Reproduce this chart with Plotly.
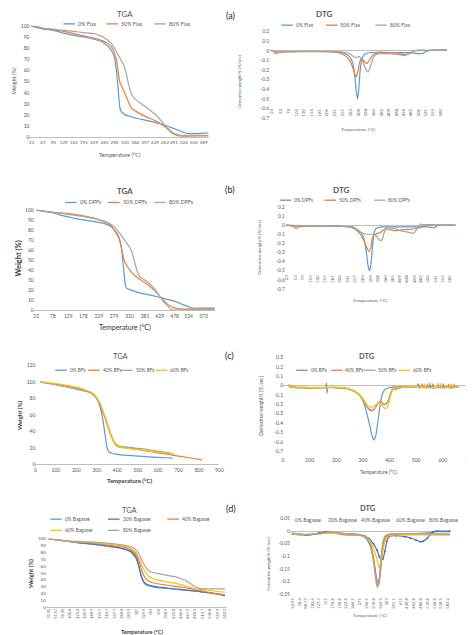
import plotly.graph_objects as go

W, H = 474, 635

# ---------------- data (temperature °C, value) ----------------
# (a) Flax  - TGA weight %
A_TGA_0 = [(23, 100), (40, 98.5), (61, 97), (95, 96), (129, 93.5), (162, 91.5), (195, 90), (229, 88),
           (263, 84.5), (280, 80), (290, 76), (297, 70), (303, 58), (309, 40), (314, 26), (320, 22.5),
           (330, 20.5), (345, 19), (364, 17.5), (397, 15.5), (429, 13.5), (462, 11), (491, 8), (510, 6),
           (524, 4.5), (540, 3.5), (560, 3.5), (589, 4), (605, 4)]
A_TGA_50 = [(23, 100), (40, 99), (61, 97.5), (95, 96.5), (129, 95), (162, 93), (195, 91), (229, 89),
            (263, 86), (280, 83), (291, 79), (302, 70), (309, 57), (314, 49), (323, 44), (334, 37),
            (350, 27), (372, 22.5), (404, 18), (430, 15), (448, 12), (465, 9), (480, 5), (495, 2.5),
            (510, 1.5), (540, 1.3), (589, 1.5), (605, 1.5)]
A_TGA_80 = [(23, 100), (40, 99.5), (61, 98), (95, 97), (129, 96), (162, 95), (195, 94), (229, 93),
            (250, 91), (270, 88), (285, 84.5), (296, 80), (308, 74), (318, 69), (326, 65), (334, 58),
            (342, 48), (350, 40), (361, 35), (375, 32), (393, 28.5), (415, 24), (437, 19), (452, 14),
            (464, 10), (476, 7), (486, 4.5), (500, 3), (513, 2), (540, 2), (589, 2), (605, 2)]
# (a) Flax  - DTG %/sec
A_DTG_0 = [(23, 0), (35, -0.01), (50, -0.015), (70, -0.01), (100, -0.008), (150, -0.005), (200, -0.008),
           (230, -0.01), (250, -0.015), (265, -0.03), (280, -0.06), (290, -0.12), (297, -0.25),
           (302, -0.42), (306, -0.5), (310, -0.42), (315, -0.2), (322, -0.07), (330, -0.035),
           (345, -0.02), (365, -0.015), (400, -0.015), (450, -0.02), (480, -0.02), (495, -0.025),
           (510, -0.03), (520, -0.03), (530, -0.01), (545, 0.005), (570, 0.01), (600, 0.01)]
A_DTG_50 = [(23, 0), (30, -0.01), (38, -0.03), (45, -0.015), (60, -0.012), (100, -0.01), (150, -0.008),
            (200, -0.01), (230, -0.015), (250, -0.025), (265, -0.05), (280, -0.1), (290, -0.17),
            (297, -0.24), (302, -0.27), (307, -0.22), (313, -0.12), (319, -0.08), (326, -0.1),
            (333, -0.125), (338, -0.13), (345, -0.1), (355, -0.05), (365, -0.03), (400, -0.02),
            (440, -0.025), (462, -0.04), (478, -0.03), (494, 0), (510, 0.008), (530, 0.005),
            (560, 0.005), (600, 0.005)]
A_DTG_80 = [(23, 0), (50, -0.005), (100, -0.005), (150, -0.005), (200, -0.005), (250, -0.01),
            (270, -0.02), (283, -0.035), (293, -0.06), (300, -0.07), (305, -0.065), (312, -0.06),
            (322, -0.1), (332, -0.18), (341, -0.22), (350, -0.15), (360, -0.06), (375, -0.03),
            (400, -0.03), (441, -0.04), (462, -0.05), (478, -0.02), (494, 0), (520, 0.005),
            (560, 0.005), (600, 0.01)]

# (b) DPFs - TGA
B_TGA_0 = [(23, 100), (50, 98.5), (78, 97), (100, 95), (129, 93), (150, 91.5), (178, 90), (200, 89),
           (229, 87.5), (250, 86), (265, 84), (280, 80), (290, 76), (298, 70), (305, 58), (311, 40),
           (316, 26), (320, 22), (335, 20), (350, 18.5), (367, 17), (400, 15), (432, 12.5), (465, 10),
           (486, 8), (505, 5.5), (518, 4), (535, 2), (560, 2), (610, 2)]
B_TGA_50 = [(23, 100), (64, 98), (100, 97), (151, 95.5), (194, 93), (226, 90.5), (259, 86.5), (280, 80),
            (297, 70), (305, 60), (313, 49), (324, 43), (345, 35), (367, 30), (389, 25.5), (410, 20),
            (432, 13), (454, 6), (475, 2.5), (497, 1.2), (520, 1), (560, 1), (610, 1)]
B_TGA_80 = [(23, 100), (42, 99), (80, 97.5), (129, 95.5), (194, 92.5), (232, 90), (260, 87), (280, 83),
            (302, 75), (318, 68), (335, 60), (345, 50), (352, 42), (362, 34), (375, 31), (389, 28),
            (410, 22), (427, 15), (443, 8), (459, 3), (467, 0.5), (472, 0), (480, 0), (520, 0),
            (560, 0), (610, 0)]
# (b) DPFs - DTG
B_DTG_0 = [(23, 0), (50, -0.01), (100, -0.01), (150, -0.01), (200, -0.015), (250, -0.02), (260, -0.04),
           (270, -0.06), (282, -0.1), (290, -0.18), (297, -0.32), (302, -0.45), (307, -0.5), (312, -0.42),
           (318, -0.2), (323, -0.08), (328, -0.04), (335, -0.03), (349, -0.02), (400, -0.02), (450, -0.02),
           (507, -0.02), (518, -0.025), (527, -0.03), (535, -0.015), (541, 0), (560, 0), (600, 0)]
B_DTG_50 = [(23, 0), (40, -0.01), (50, -0.02), (57, -0.04), (65, -0.02), (100, -0.015), (150, -0.01),
            (200, -0.012), (250, -0.03), (260, -0.05), (275, -0.1), (288, -0.17), (298, -0.25),
            (305, -0.29), (311, -0.25), (316, -0.15), (322, -0.11), (327, -0.1), (335, -0.09),
            (344, -0.08), (352, -0.06), (361, -0.04), (372, -0.045), (383, -0.055), (395, -0.06),
            (405, -0.058), (420, -0.05), (440, -0.05), (462, -0.04), (485, -0.02), (496, 0),
            (510, 0.005), (560, 0), (600, 0)]
B_DTG_80 = [(23, 0), (100, -0.008), (200, -0.01), (230, -0.015), (248, -0.03), (262, -0.05),
            (276, -0.08), (290, -0.095), (299, -0.1), (308, -0.1), (316, -0.1), (325, -0.11),
            (333, -0.13), (340, -0.16), (344, -0.17), (350, -0.16), (355, -0.1), (361, -0.05),
            (366, -0.03), (380, -0.03), (394, -0.035), (403, -0.05), (411, -0.06), (425, -0.07),
            (440, -0.08), (456, -0.09), (465, -0.06), (472, -0.02), (479, 0.01), (490, 0.005),
            (520, 0), (600, 0)]

# (c) BFs - TGA
C_TGA_0 = [(25, 100), (60, 98.5), (100, 97), (150, 94), (200, 91), (240, 89), (270, 86.5), (290, 83),
           (305, 77), (318, 68), (328, 57), (336, 44), (344, 30), (350, 21), (356, 16.5), (363, 14.5),
           (372, 13.5), (385, 12.8), (400, 12.2), (450, 11), (500, 10), (550, 9.2), (600, 8.5),
           (640, 8), (670, 7.6)]
C_TGA_40 = [(25, 100), (60, 98.5), (100, 97), (150, 94.5), (200, 92), (240, 89.5), (270, 87), (290, 83),
            (305, 78), (318, 71), (330, 63), (342, 55), (355, 45), (368, 36), (380, 29), (392, 24),
            (402, 22), (415, 21), (450, 20), (500, 18), (550, 16), (600, 14), (650, 12), (700, 10),
            (750, 8), (815, 5.5)]
C_TGA_50 = [(25, 100), (60, 98), (100, 96.5), (150, 94), (200, 92), (240, 89.5), (270, 87), (290, 83),
            (305, 78), (318, 72), (330, 64), (342, 56), (355, 46), (368, 37), (380, 30), (392, 25),
            (402, 23), (415, 22), (450, 21), (500, 19.5), (550, 18), (600, 16), (640, 14.5), (675, 13)]
C_TGA_60 = [(25, 100), (60, 99), (100, 98), (150, 96), (200, 93.5), (240, 90.5), (270, 88), (290, 84),
            (305, 79), (318, 73), (330, 65), (342, 57), (355, 47), (368, 37), (380, 29), (392, 23.5),
            (402, 21.5), (415, 20.5), (450, 19.5), (500, 18), (550, 16.5), (600, 15), (640, 13.5),
            (680, 12)]
# (c) BFs - DTG
C_DTG_0 = [(20, 0), (25, 0.01), (30, -0.01), (50, -0.02), (100, -0.02), (150, -0.02), (160, -0.02),
           (163, 0.03), (165, -0.08), (167, -0.03), (170, -0.02), (200, -0.02), (240, -0.03),
           (260, -0.05), (280, -0.08), (295, -0.13), (305, -0.2), (315, -0.3), (325, -0.42),
           (333, -0.52), (340, -0.58), (347, -0.55), (353, -0.45), (360, -0.3), (366, -0.18),
           (372, -0.1), (380, -0.05), (390, -0.03), (410, -0.015), (450, -0.01), (500, -0.01),
           (510, 0.02), (512, -0.03), (515, -0.01), (550, -0.01), (552, 0.025), (555, -0.02),
           (600, -0.01), (602, 0.02), (605, -0.02), (640, -0.01), (660, -0.01)]
C_DTG_40 = [(20, -0.005), (30, -0.015), (50, -0.02), (100, -0.025), (150, -0.02), (200, -0.02),
            (240, -0.03), (260, -0.05), (280, -0.08), (295, -0.13), (305, -0.18), (315, -0.23),
            (325, -0.26), (333, -0.27), (340, -0.26), (348, -0.23), (355, -0.2), (362, -0.17),
            (368, -0.17), (375, -0.19), (382, -0.2), (388, -0.19), (395, -0.16), (402, -0.1),
            (410, -0.05), (418, -0.03), (425, -0.04), (428, -0.02), (432, -0.03), (450, -0.015),
            (500, -0.01), (520, -0.01), (523, 0.02), (526, -0.02), (560, -0.01), (563, 0.02),
            (566, -0.02), (600, -0.01), (620, -0.01), (623, 0.015), (626, -0.025), (660, -0.01)]
C_DTG_50 = [(20, -0.005), (30, -0.01), (50, -0.015), (100, -0.02), (150, -0.02), (162, -0.02),
            (165, -0.05), (168, -0.02), (200, -0.02), (240, -0.03), (260, -0.05), (280, -0.08),
            (295, -0.12), (305, -0.17), (315, -0.22), (325, -0.25), (335, -0.26), (345, -0.24),
            (355, -0.19), (362, -0.17), (370, -0.18), (378, -0.2), (385, -0.2), (392, -0.18),
            (400, -0.12), (408, -0.05), (418, -0.02), (450, -0.015), (500, -0.01), (540, -0.01),
            (543, 0.02), (546, -0.02), (580, -0.01), (583, 0.025), (586, -0.02), (640, -0.01),
            (643, 0.015), (646, -0.02), (660, -0.01)]
C_DTG_60 = [(20, -0.01), (25, 0.01), (30, -0.01), (50, -0.015), (100, -0.02), (150, -0.02),
            (200, -0.015), (240, -0.025), (260, -0.045), (280, -0.075), (295, -0.12), (305, -0.16),
            (315, -0.2), (325, -0.225), (335, -0.23), (345, -0.21), (355, -0.19), (362, -0.18),
            (370, -0.2), (378, -0.23), (386, -0.245), (393, -0.22), (400, -0.15), (408, -0.07),
            (415, -0.03), (420, -0.045), (424, -0.02), (450, -0.015), (500, -0.01), (530, -0.01),
            (533, 0.02), (536, -0.02), (590, -0.01), (593, 0.02), (596, -0.015), (630, -0.01),
            (633, 0.02), (636, -0.02), (660, -0.01)]

# (d) Bagasse - TGA
D_TGA_T = [33, 55, 78, 100, 123, 146, 169, 192, 215, 238, 261, 284, 295, 307, 315, 322, 330, 338,
           346, 353, 365, 376, 399, 422, 445, 468, 490, 500, 514, 537, 560, 583]
D_TGA_0 = [100, 98.5, 97, 95.5, 94, 93, 92, 90.5, 89, 87.5, 85.5, 82, 78, 70, 58, 45, 36, 32.5,
           31, 30, 29, 28.5, 27.5, 26.5, 25.5, 24.5, 23.5, 23, 22, 21, 19.5, 18]
D_TGA_20 = [100, 98.5, 97, 95.5, 94.5, 93.5, 92.5, 91, 89.5, 88, 86, 83, 79.5, 72, 60, 46, 37, 34,
            32.5, 31.5, 30.5, 29.5, 28.5, 27, 26, 25, 24, 23.5, 22.5, 21, 19, 17]
D_TGA_40 = [100, 98.5, 97, 96, 95, 94.5, 93.5, 92.5, 91, 89.5, 88, 85, 82, 76, 67, 56, 46, 41,
            38, 36.5, 35, 34, 32.5, 31, 29.5, 28, 26, 25, 23.5, 21.5, 19.5, 18]
D_TGA_60 = [100, 98.5, 97, 96, 95.5, 95, 94.5, 93.5, 92.5, 91, 89.5, 87, 84, 79, 72, 63, 55, 49,
            45, 43, 40.5, 39.5, 37.5, 35.5, 33, 30, 27, 26.5, 26, 24.5, 23, 22]
D_TGA_80 = [100, 98.5, 97.5, 96.5, 96, 95.5, 95, 94.5, 93.5, 92.5, 91, 89, 87, 83, 78, 71, 63, 57,
            53, 51.5, 50, 49, 47, 45, 42, 37, 30, 28, 27, 27, 27, 27]
# (d) Bagasse - DTG
D_DTG_0 = [(33, -0.008), (60, -0.012), (90, -0.015), (130, -0.01), (170, -0.005), (200, -0.008),
           (240, -0.012), (270, -0.015), (290, -0.025), (305, -0.05), (318, -0.1), (327, -0.16),
           (334, -0.2), (340, -0.19), (346, -0.14), (352, -0.07), (360, -0.03), (372, -0.018),
           (400, -0.012), (450, -0.01), (500, -0.008), (531, -0.005), (540, -0.002), (590, -0.002)]
D_DTG_20 = [(33, -0.01), (50, -0.012), (80, -0.016), (110, -0.012), (130, -0.006), (150, -0.003),
            (180, -0.006), (210, -0.01), (240, -0.01), (270, -0.014), (290, -0.02), (305, -0.03),
            (320, -0.05), (332, -0.075), (340, -0.1), (347, -0.115), (353, -0.11), (360, -0.08),
            (367, -0.04), (375, -0.02), (400, -0.018), (430, -0.022), (450, -0.027), (470, -0.035),
            (485, -0.042), (495, -0.04), (510, -0.028), (522, -0.012), (531, -0.002), (545, 0),
            (590, 0)]
D_DTG_40 = [(33, -0.012), (60, -0.015), (100, -0.012), (140, -0.008), (170, -0.006), (200, -0.012),
            (230, -0.016), (260, -0.016), (285, -0.02), (300, -0.03), (312, -0.06), (322, -0.12),
            (330, -0.19), (336, -0.215), (341, -0.2), (347, -0.13), (353, -0.06), (360, -0.025),
            (372, -0.015), (400, -0.012), (450, -0.012), (500, -0.012), (540, -0.012), (590, -0.012)]
D_DTG_60 = [(33, -0.01), (60, -0.014), (100, -0.012), (150, -0.008), (200, -0.01), (250, -0.012),
            (285, -0.02), (305, -0.035), (320, -0.07), (332, -0.11), (340, -0.145), (346, -0.13),
            (353, -0.08), (360, -0.04), (370, -0.02), (400, -0.015), (500, -0.015), (590, -0.016)]
D_DTG_80 = [(33, -0.008), (60, -0.012), (90, -0.014), (130, -0.01), (170, -0.004), (200, -0.008),
            (230, -0.01), (260, -0.012), (285, -0.02), (300, -0.035), (312, -0.07), (322, -0.14),
            (329, -0.2), (334, -0.222), (339, -0.2), (345, -0.12), (352, -0.05), (360, -0.02),
            (372, -0.012), (400, -0.01), (500, -0.01), (550, -0.012), (590, -0.012)]

# category tick labels copied from the charts
A_TGA_TICKS = ["23", "61", "95", "129", "162", "195", "229", "263", "296", "330", "364", "397",
               "429", "462", "491", "524", "556", "589"]
AB_DTG_TICKS = ["23", "53", "79", "105", "130", "155", "181", "206", "231", "257", "283", "309",
                "334", "360", "385", "409", "434", "459", "482", "506", "531", "555", "580"]
B_TGA_TICKS = ["23", "78", "129", "178", "229", "279", "330", "381", "429", "478", "524", "573"]
D_TGA_TICKS = ["32.95", "55.57", "78.35", "100.4", "123.4", "145.9", "168.9", "191.7", "214.7",
               "237.7", "260.8", "283.9", "307", "329.9", "353", "376", "398.9", "421.8", "444.6",
               "467.5", "490.3", "513.7", "536.8", "559.9", "583.2"]
D_DTG_TICKS = ["32.95", "58.4", "80.17", "103.4", "127.3", "151", "174.6", "198.8", "222.6",
               "246.9", "271", "294.9", "318.8", "343.9", "367", "391.1", "415", "438.8", "462.8",
               "486.8", "510.8", "534.8", "558.9", "583.2"]

BLUE, ORANGE, GRAY, YELLOW, DBLUE = "#5B9BD5", "#ED7D31", "#A5A5A5", "#FFC000", "#4472C4"
TXT = "#595959"
FONT = "Lato"


def fx(px):
    return px / W


def fy(py):
    return 1 - py / H


def ylabels(vals):
    out = []
    for v in vals:
        s = ("%.2f" % v).rstrip("0").rstrip(".")
        out.append("0" if s in ("-0", "0") else s)
    return out


def pairs(p):
    return [a for a, _ in p], [b for _, b in p]


# each panel: plot box in px (x0, x1, ytop, ybot), ranges, ticks, series, legend layout
panels = [
    dict(box=(20.7, 201.7, 15, 127.7), xr=[16.5, 605], yr=[0, 100], ticks=A_TGA_TICKS, xpos=128.5,
         angle=0, xfs=4.6, yfs=5, yt=[i * 10 for i in range(11)],
         series=[("0% Flax", pairs(A_TGA_0), BLUE), ("50% Flax", pairs(A_TGA_50), ORANGE),
                 ("80% Flax", pairs(A_TGA_80), GRAY)],
         leg=[(55, 13), (98.3, 13), (146.7, 13)], legfs=5.3),
    dict(box=(263, 443, 20.7, 108.3), xr=[15.5, 602], yr=[-0.7, 0.2], ticks=AB_DTG_TICKS, xpos=97,
         angle=-90, xfs=4.4, yfs=5, yt=[round(-0.7 + 0.1 * i, 2) for i in range(10)],
         series=[("0% Flax", pairs(A_DTG_0), BLUE), ("50% Flax", pairs(A_DTG_50), ORANGE),
                 ("80% Flax", pairs(A_DTG_80), GRAY)],
         leg=[(275.3, 14.3), (320.3, 14.3), (370.3, 14.3)], legfs=5),
    dict(box=(25, 208, 200.7, 302), xr=[15.5, 610], yr=[0, 100], ticks=B_TGA_TICKS, xpos=303.5,
         angle=0, xfs=5, yfs=5, yt=[i * 10 for i in range(11)],
         series=[("0% DPFs", pairs(B_TGA_0), BLUE), ("50% DPFs", pairs(B_TGA_50), ORANGE),
                 ("80% DPFs", pairs(B_TGA_80), GRAY)],
         leg=[(56.7, 193.3), (100, 193.3), (146.7, 193.3)], legfs=5.3),
    dict(box=(278.7, 452, 197.7, 280.7), xr=[17.6, 602.6], yr=[-0.7, 0.2], ticks=AB_DTG_TICKS,
         xpos=265, angle=-90, xfs=4.3, yfs=4.8, yt=[round(-0.7 + 0.1 * i, 2) for i in range(10)],
         series=[("0% DPFs", pairs(B_DTG_0), BLUE), ("50% DPFs", pairs(B_DTG_50), ORANGE),
                 ("80% DPFs", pairs(B_DTG_80), GRAY)],
         leg=[(273.7, 191), (318.7, 191), (368.7, 191)], legfs=4.8),
    dict(box=(26.7, 212.7, 357.7, 457.7), xr=[0, 900], yr=[0, 120], ticks=None, xpos=459,
         angle=0, xfs=5, yfs=5, yt=[i * 20 for i in range(7)], xt=[i * 100 for i in range(10)],
         series=[("0% BFs", pairs(C_TGA_0), BLUE), ("40% BFs", pairs(C_TGA_40), ORANGE),
                 ("50% BFs", pairs(C_TGA_50), GRAY), ("60% BFs", pairs(C_TGA_60), YELLOW)],
         leg=[(46.7, 362.7), (80, 362.7), (113.3, 362.7), (148.3, 362.7)], legfs=4.8),
    dict(box=(277, 465.3, 350, 444.3), xr=[0, 700], yr=[-0.7, 0.3], ticks=None, xpos=449,
         angle=0, xfs=5, yfs=5, yt=[round(-0.7 + 0.1 * i, 2) for i in range(11)],
         xt=[i * 100 for i in range(8)],
         series=[("0% BFs", pairs(C_DTG_0), BLUE), ("40% BFs", pairs(C_DTG_40), ORANGE),
                 ("50% BFs", pairs(C_DTG_50), GRAY), ("60% BFs", pairs(C_DTG_60), YELLOW)],
         leg=[(290.3, 362.7), (325.3, 362.7), (358.7, 362.7), (393.7, 362.7)], legfs=4.8),
    dict(box=(37.3, 220, 532.7, 602), xr=[24.6, 588.5], yr=[0, 100], ticks=D_TGA_TICKS, xpos=601.5,
         angle=-90, xfs=4.0, yfs=4.6, yt=[i * 10 for i in range(11)],
         series=[("0% Bagasse", (D_TGA_T, D_TGA_0), BLUE), ("20% Bagasse", (D_TGA_T, D_TGA_20), DBLUE),
                 ("40% Bagasse", (D_TGA_T, D_TGA_40), ORANGE), ("60% Bagasse", (D_TGA_T, D_TGA_60), YELLOW),
                 ("80% Bagasse", (D_TGA_T, D_TGA_80), GRAY)],
         leg=[(41.7, 513), (100, 513), (160, 513), (41.7, 524.3), (100, 524.3)], legfs=4.8),
    dict(box=(283.7, 446.3, 512.3, 589), xr=[23.9, 592.3], yr=[-0.25, 0.05], ticks=D_DTG_TICKS,
         xpos=591, angle=-90, xfs=4.1, yfs=4.8, yt=[round(-0.25 + 0.05 * i, 2) for i in range(7)],
         series=[("0% Bagasse", pairs(D_DTG_0), BLUE), ("20% Bagasse", pairs(D_DTG_20), DBLUE),
                 ("40% Bagasse", pairs(D_DTG_40), ORANGE), ("60% Bagasse", pairs(D_DTG_60), YELLOW),
                 ("80% Bagasse", pairs(D_DTG_80), GRAY)],
         leg=[(287, 514), (320, 514), (354, 514), (389, 514), (422, 514)], legfs=5, nokey=True),
]

# titles / axis titles: (text, x px, y px, size, colour, bold, angle)
labels = [
    ("TGA", 117, 3, 8, TXT, False, 0), ("DTG", 318.7, 3, 8, TXT, True, 0), ("(a)", 224, 5, 9, "#222", False, 0),
    ("Temperature (°C)", 112, 145, 5.6, TXT, False, 0), ("Weight (%)", 4, 70, 5.6, TXT, False, -90),
    ("Temperature (°C)", 353.7, 119, 4.6, TXT, False, 0),
    ("Derivative weight% (%/sec)", 233, 72, 4.5, TXT, False, -90),
    ("TGA", 117, 181.7, 8, TXT, True, 0), ("DTG", 335.3, 180.7, 8, TXT, True, 0), ("(b)", 223, 180, 9, "#222", False, 0),
    ("Temperature (°C)", 117, 320, 7, "#333", False, 0), ("Weight (%)", 10, 250, 7.5, "#404040", True, -90),
    ("Temperature (°C)", 365, 291.7, 4.6, TXT, False, 0),
    ("Derivative weight% (%/sec)", 252, 238, 4.6, TXT, False, -90),
    ("TGA", 113.3, 349, 7.5, TXT, False, 0), ("DTG", 362, 348.3, 7.5, TXT, True, 0), ("(c)", 223, 348, 9, "#222", False, 0),
    ("Temperature (°C)", 122, 474, 6, "#404040", True, 0), ("Weight (%)", 10, 408, 6, "#404040", True, -90),
    ("Temperature (°C)", 374.3, 465.7, 5, TXT, False, 0),
    ("Derivative weight% (%/sec)", 255.3, 398, 5, TXT, False, -90),
    ("TGA", 122.3, 504, 7.5, TXT, False, 0), ("DTG", 363, 502.7, 7.5, TXT, True, 0), ("(d)", 224, 502, 9, "#222", False, 0),
    ("Temperature (°C)", 135, 626.5, 5.6, "#404040", True, 0), ("Weight (%)", 21.7, 568, 6, "#404040", True, -90),
    ("Temperature (°C)", 365.3, 610, 4.6, TXT, False, 0),
    ("Derivative weight% (%/sec)", 262, 558, 4.5, TXT, False, -90),
]

fig = go.Figure()
layout = dict(width=W, height=H, margin=dict(l=0, r=0, t=0, b=0), showlegend=False,
              paper_bgcolor="white", plot_bgcolor="white", font=dict(family=FONT, color=TXT))
shapes, annots = [], []

for i, p in enumerate(panels, 1):
    sx = "" if i == 1 else str(i)
    x0, x1, yt, yb = p["box"]
    for name, (xs, ys), col in p["series"]:
        mode = "lines"
        marker = None
        if name == "20% Bagasse" and i == 8:
            mode = "lines+markers"
            marker = dict(size=2, color=col)
        fig.add_trace(go.Scatter(x=xs, y=ys, name=name, mode=mode, marker=marker,
                                 line=dict(color=col, width=1.2, shape="spline", smoothing=0.5),
                                 xaxis="x" + sx, yaxis="y" + sx, hoverinfo="skip"))
    if p["ticks"] is not None:
        xtv = [float(t) for t in p["ticks"]]
        xtt = p["ticks"]
    else:
        xtv = p["xt"]
        xtt = [str(v) for v in xtv]
    layout["xaxis" + sx] = dict(domain=[fx(x0), fx(x1)], range=p["xr"], anchor="free",
                                position=fy(p["xpos"]), tickvals=xtv, ticktext=xtt,
                                tickangle=p["angle"], tickfont=dict(size=p["xfs"], color=TXT),
                                showgrid=False, zeroline=False, showline=False, ticks="")
    layout["yaxis" + sx] = dict(domain=[fy(yb), fy(yt)], range=p["yr"], anchor="free",
                                position=fx(x0), tickvals=p["yt"], ticktext=ylabels(p["yt"]),
                                tickfont=dict(size=p["yfs"], color=TXT), showgrid=False,
                                zeroline=True, zerolinecolor="#BFBFBF", zerolinewidth=0.8,
                                showline=False, ticks="")
    # legend keys and names
    for (lx, ly), (name, _, col) in zip(p["leg"], p["series"]):
        if p.get("nokey"):
            tx = lx
        else:
            shapes.append(dict(type="line", xref="paper", yref="paper", x0=fx(lx), x1=fx(lx + 11.7),
                               y0=fy(ly), y1=fy(ly), line=dict(color=col, width=1.3)))
            tx = lx + 12.7
        annots.append(dict(text=name, x=fx(tx), y=fy(ly), xref="paper", yref="paper",
                           xanchor="left", yanchor="middle", showarrow=False,
                           font=dict(size=p["legfs"], color=TXT)))

for text, px, py, size, col, bold, ang in labels:
    annots.append(dict(text="<b>%s</b>" % text if bold else text, x=fx(px), y=fy(py),
                       xref="paper", yref="paper", xanchor="center", yanchor="middle",
                       showarrow=False, textangle=ang, font=dict(size=size, color=col)))

layout["shapes"] = shapes
layout["annotations"] = annots
fig.update_layout(**layout)
fig.write_html("out.html")
